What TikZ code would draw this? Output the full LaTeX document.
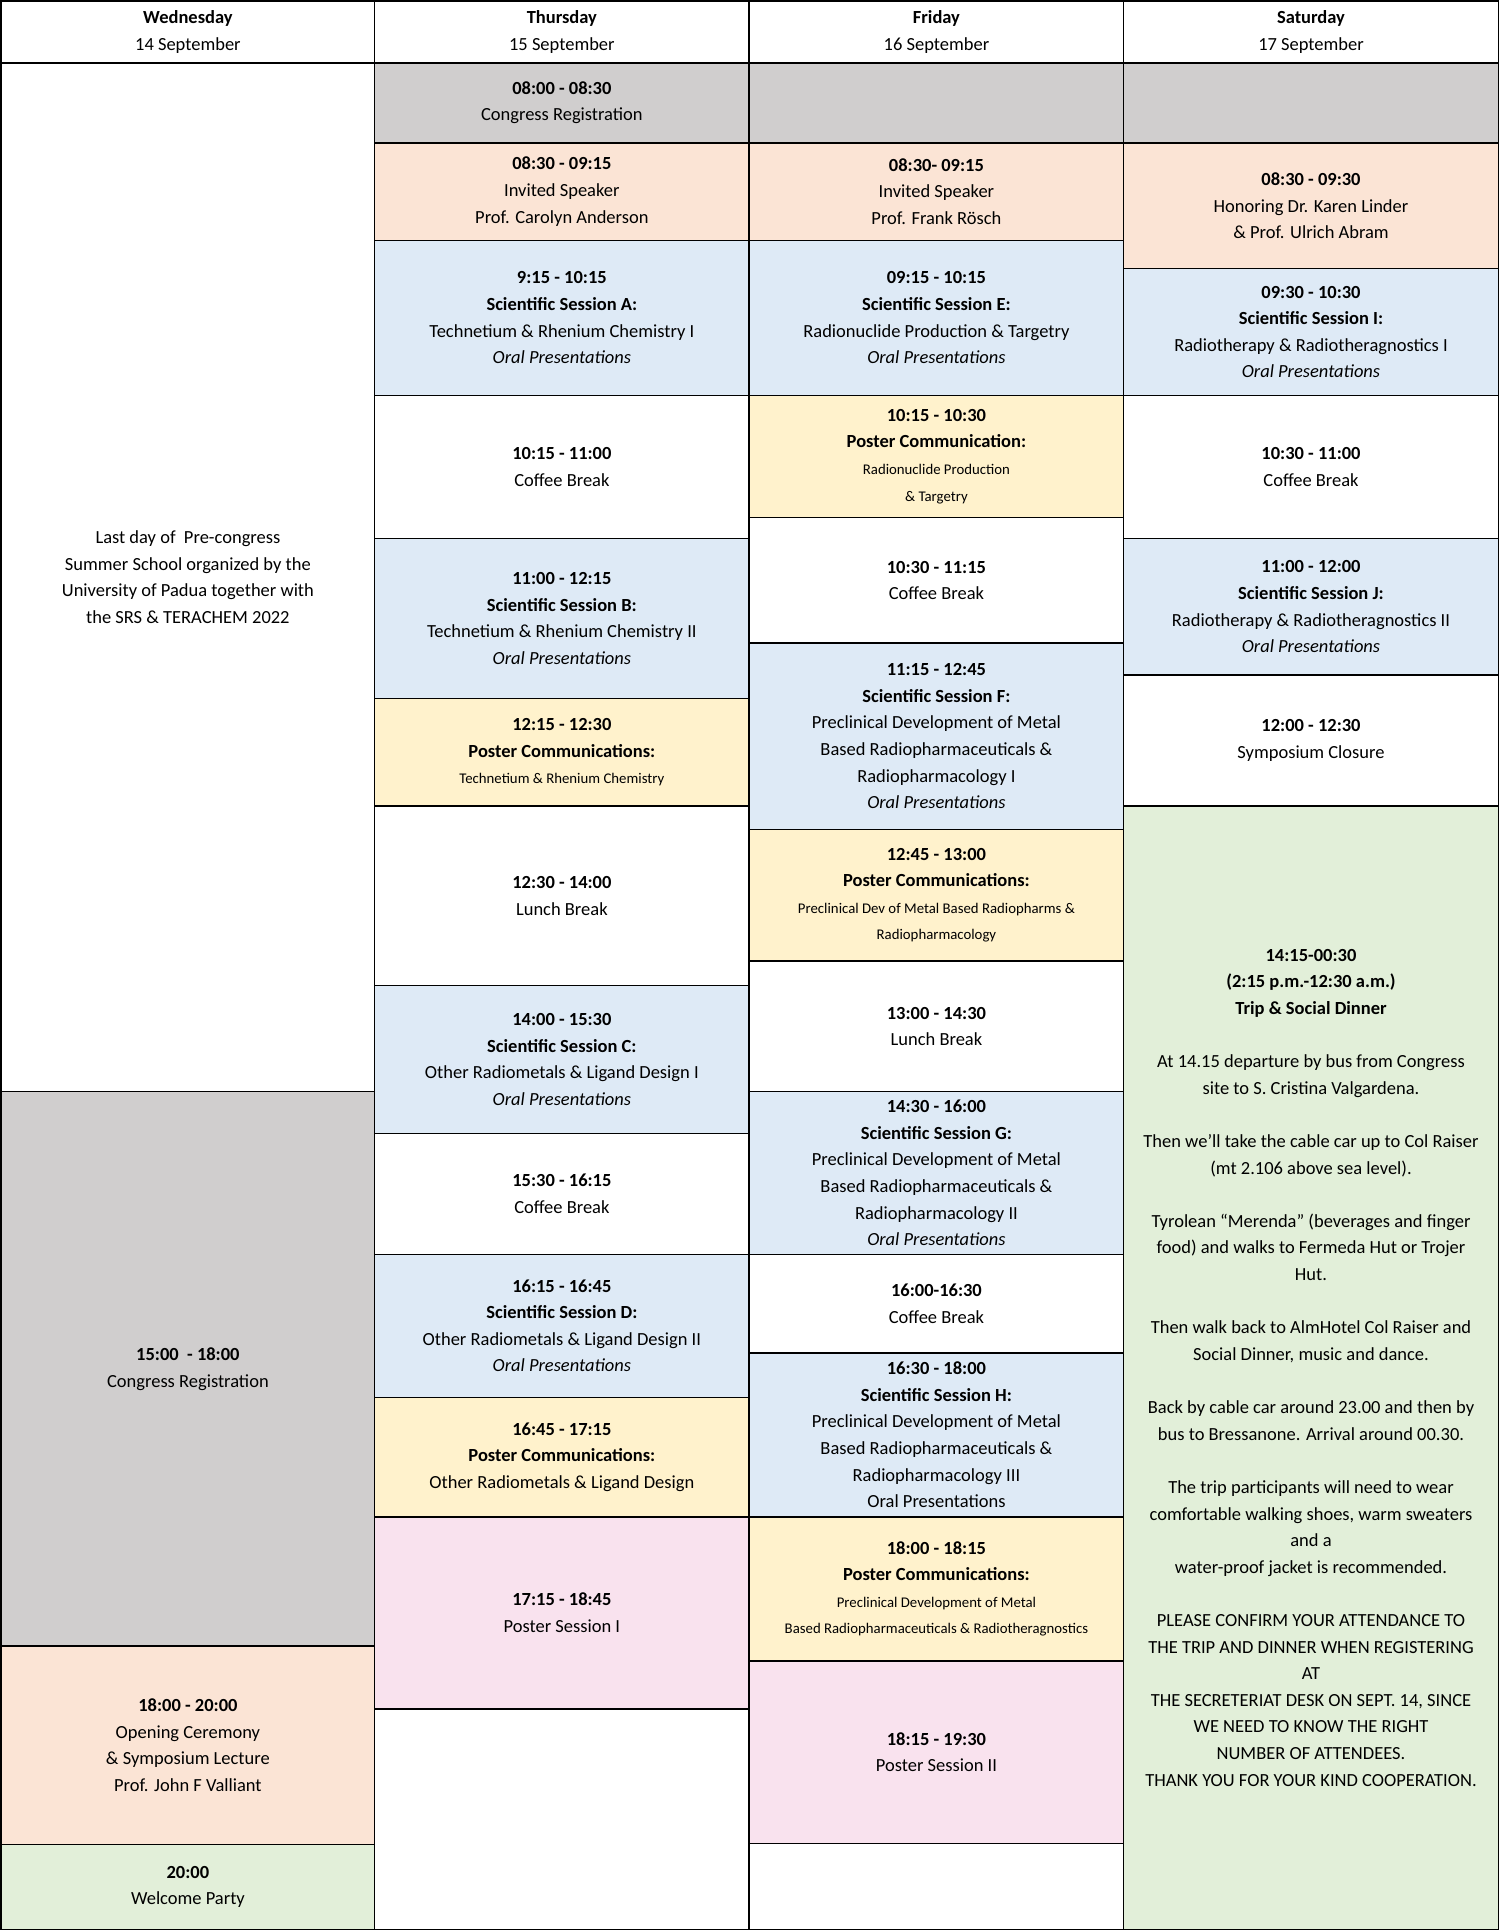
\documentclass[tikz,border=0pt]{standalone}
\usepackage{fontspec}
\setmainfont{Carlito}
\definecolor{cgray}{HTML}{D0CECE}
\definecolor{cpeach}{HTML}{FBE4D5}
\definecolor{cblue}{HTML}{DEEAF6}
\definecolor{cyel}{HTML}{FFF2CC}
\definecolor{cpink}{HTML}{F9E2EE}
\definecolor{cgreen}{HTML}{E2EFD9}
\newcommand\cell[6]{\draw[line width=1.2pt,fill=#5] (#1,#2) rectangle (#3,#4);
 \node[txt] at ({(#1+#3)/2},{(#2+#4)/2}) {#6};}
\newcommand\sm{\fontsize{12}{18}\selectfont}
\begin{document}
\begin{tikzpicture}[x=1pt,y=-1pt,txt/.style={align=center,font=\fontsize{15}{21.6}\selectfont,inner sep=0pt}]
\useasboundingbox (0,0) rectangle (1217,1568);
% headers
\cell{1}{1}{304}{51}{white}{\textbf{Wednesday}\\14 September}
\cell{304}{1}{608}{51}{white}{\textbf{Thursday}\\15 September}
\cell{608}{1}{912}{51}{white}{\textbf{Friday}\\16 September}
\cell{912}{1}{1216}{51}{white}{\textbf{Saturday}\\17 September}
% Wednesday
\cell{1}{51}{304}{886}{white}{Last day of\ \ Pre-congress\\Summer School organized by the\\University of Padua together with\\the SRS \& TERACHEM 2022}
\cell{1}{886}{304}{1336}{cgray}{\textbf{15:00\ \ - 18:00}\\Congress Registration}
\cell{1}{1336}{304}{1497}{cpeach}{\textbf{18:00 - 20:00}\\Opening Ceremony\\\& Symposium Lecture\\Prof. John F Valliant}
\cell{1}{1497}{304}{1566}{cgreen}{\textbf{20:00}\\Welcome Party}
% Thursday
\cell{304}{51}{608}{116}{cgray}{\textbf{08:00 - 08:30}\\Congress Registration}
\cell{304}{116}{608}{195}{cpeach}{\textbf{08:30 - 09:15}\\Invited Speaker\\Prof. Carolyn Anderson}
\cell{304}{195}{608}{321}{cblue}{\textbf{9:15 - 10:15}\\\textbf{Scientific Session A:}\\Technetium \& Rhenium Chemistry I\\\textit{Oral Presentations}}
\cell{304}{321}{608}{437}{white}{\textbf{10:15 - 11:00}\\Coffee Break}
\cell{304}{437}{608}{567}{cblue}{\textbf{11:00 - 12:15}\\\textbf{Scientific Session B:}\\Technetium \& Rhenium Chemistry II\\\textit{Oral Presentations}}
\cell{304}{567}{608}{654}{cyel}{\textbf{12:15 - 12:30}\\\textbf{Poster Communications:}\\{\sm Technetium \& Rhenium Chemistry}}
\cell{304}{654}{608}{800}{white}{\textbf{12:30 - 14:00}\\Lunch Break}
\cell{304}{800}{608}{920}{cblue}{\textbf{14:00 - 15:30}\\\textbf{Scientific Session C:}\\Other Radiometals \& Ligand Design I\\\textit{Oral Presentations}}
\cell{304}{920}{608}{1018}{white}{\textbf{15:30 - 16:15}\\Coffee Break}
\cell{304}{1018}{608}{1134}{cblue}{\textbf{16:15 - 16:45}\\\textbf{Scientific Session D:}\\Other Radiometals \& Ligand Design II\\\textit{Oral Presentations}}
\cell{304}{1134}{608}{1231}{cyel}{\textbf{16:45 - 17:15}\\\textbf{Poster Communications:}\\Other Radiometals \& Ligand Design}
\cell{304}{1231}{608}{1387}{cpink}{\textbf{17:15 - 18:45}\\Poster Session I}
\cell{304}{1387}{608}{1566}{white}{}
% Friday
\cell{608}{51}{912}{116}{cgray}{}
\cell{608}{116}{912}{195}{cpeach}{\textbf{08:30- 09:15}\\Invited Speaker\\Prof. Frank Rösch}
\cell{608}{195}{912}{321}{cblue}{\textbf{09:15 - 10:15}\\\textbf{Scientific Session E:}\\Radionuclide Production \& Targetry\\\textit{Oral Presentations}}
\cell{608}{321}{912}{420}{cyel}{\textbf{10:15 - 10:30}\\\textbf{Poster Communication:}\\{\sm Radionuclide Production}\\{\sm \& Targetry}}
\cell{608}{420}{912}{522}{white}{\textbf{10:30 - 11:15}\\Coffee Break}
\cell{608}{522}{912}{673}{cblue}{\textbf{11:15 - 12:45}\\\textbf{Scientific Session F:}\\Preclinical Development of Metal\\Based Radiopharmaceuticals \&\\Radiopharmacology I\\\textit{Oral Presentations}}
\cell{608}{673}{912}{780}{cyel}{\textbf{12:45 - 13:00}\\\textbf{Poster Communications:}\\{\sm Preclinical Dev of Metal Based Radiopharms \&}\\{\sm Radiopharmacology}}
\cell{608}{780}{912}{886}{white}{\textbf{13:00 - 14:30}\\Lunch Break}
\cell{608}{886}{912}{1018}{cblue}{\textbf{14:30 - 16:00}\\\textbf{Scientific Session G:}\\Preclinical Development of Metal\\Based Radiopharmaceuticals \&\\Radiopharmacology II\\\textit{Oral Presentations}}
\cell{608}{1018}{912}{1098}{white}{\textbf{16:00-16:30}\\Coffee Break}
\cell{608}{1098}{912}{1231}{cblue}{\textbf{16:30 - 18:00}\\\textbf{Scientific Session H:}\\Preclinical Development of Metal\\Based Radiopharmaceuticals \&\\Radiopharmacology III\\Oral Presentations}
\cell{608}{1231}{912}{1348}{cyel}{\textbf{18:00 - 18:15}\\\textbf{Poster Communications:}\\{\sm Preclinical Development of Metal}\\{\sm Based Radiopharmaceuticals \& Radiotheragnostics}}
\cell{608}{1348}{912}{1496}{cpink}{\textbf{18:15 - 19:30}\\Poster Session II}
\cell{608}{1496}{912}{1566}{white}{}
% Saturday
\cell{912}{51}{1216}{116}{cgray}{}
\cell{912}{116}{1216}{218}{cpeach}{\textbf{08:30 - 09:30}\\Honoring Dr. Karen Linder\\\& Prof. Ulrich Abram}
\cell{912}{218}{1216}{321}{cblue}{\textbf{09:30 - 10:30}\\\textbf{Scientific Session I:}\\Radiotherapy \& Radiotheragnostics I\\\textit{Oral Presentations}}
\cell{912}{321}{1216}{437}{white}{\textbf{10:30 - 11:00}\\Coffee Break}
\cell{912}{437}{1216}{548}{cblue}{\textbf{11:00 - 12:00}\\\textbf{Scientific Session J:}\\Radiotherapy \& Radiotheragnostics II\\\textit{Oral Presentations}}
\cell{912}{548}{1216}{654}{white}{\textbf{12:00 - 12:30}\\Symposium Closure}
\cell{912}{654}{1216}{1566}{cgreen}{\textbf{14:15-00:30}\\\textbf{(2:15 p.m.-12:30 a.m.)}\\\textbf{Trip \& Social Dinner}\\[21.6pt]At 14.15 departure by bus from Congress\\site to S. Cristina Valgardena.\\[21.6pt]Then we’ll take the cable car up to Col Raiser\\(mt 2.106 above sea level).\\[21.6pt]Tyrolean “Merenda” (beverages and finger\\food) and walks to Fermeda Hut or Trojer\\Hut.\\[21.6pt]Then walk back to AlmHotel Col Raiser and\\Social Dinner, music and dance.\\[21.6pt]Back by cable car around 23.00 and then by\\bus to Bressanone. Arrival around 00.30.\\[21.6pt]The trip participants will need to wear\\comfortable walking shoes, warm sweaters\\and a\\water-proof jacket is recommended.\\[21.6pt]PLEASE CONFIRM YOUR ATTENDANCE TO\\THE TRIP AND DINNER WHEN REGISTERING\\AT\\THE SECRETERIAT DESK ON SEPT. 14, SINCE\\WE NEED TO KNOW THE RIGHT\\NUMBER OF ATTENDEES.\\THANK YOU FOR YOUR KIND COOPERATION.}
\end{tikzpicture}
\end{document}
